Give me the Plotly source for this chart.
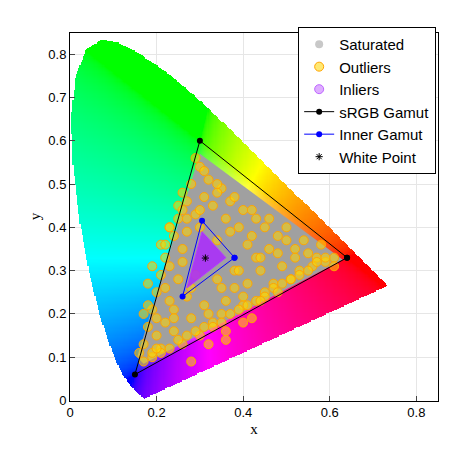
import numpy as np
import plotly.graph_objects as go

locus_x = [0.1741,0.1714,0.1644,0.1566,0.1440,0.1241,0.1096,0.0913,0.0687,0.0454,0.0235,0.0082,0.0039,0.0139,0.0389,0.0743,0.1142,0.1547,0.2296,0.3016,0.3731,0.4441,0.5125,0.5752,0.6270,0.6915,0.7190,0.7347]
locus_y = [0.0050,0.0051,0.0109,0.0177,0.0297,0.0578,0.0868,0.1327,0.2007,0.2950,0.4127,0.5384,0.6548,0.7502,0.8120,0.8338,0.8262,0.8059,0.7543,0.6923,0.6245,0.5547,0.4866,0.4242,0.3725,0.3083,0.2809,0.2653]

srgb_x = [0.64, 0.30, 0.15, 0.64]
srgb_y = [0.33, 0.60, 0.06, 0.33]
inner_x = [0.38, 0.305, 0.26, 0.38]
inner_y = [0.33, 0.415, 0.24, 0.33]
white_x = [0.3127]
white_y = [0.329]

sat_x = [0.30, 0.61, 0.63, 0.17, 0.155, 0.30]
sat_y = [0.57, 0.34, 0.325, 0.085, 0.10, 0.57]

out_x = [0.30,0.28,0.32,0.27,0.31,0.35,0.25,0.29,0.33,0.37,0.24,0.27,0.40,0.43,0.22,0.26,0.45,0.48,0.50,0.21,0.23,0.52,0.55,0.57,0.20,0.19,0.59,0.61,0.18,0.17,0.42,0.46,0.39,0.36,0.34,0.44,0.49,0.53,0.47,0.41,0.38,0.31,0.28,0.23,0.25,0.22,0.20,0.35,0.40,0.30,0.33,0.45,0.51,0.56,0.26,0.24,0.21,0.19,0.27,0.29,0.32,0.36,0.42,0.38,0.34,0.43,
         0.29,0.31,0.34,0.26,0.30,0.23,0.25,0.21,0.19,0.18,0.17,0.16,0.17,0.19,0.21,0.23,0.25,0.27,0.29,0.31,0.33,0.35,0.37,0.39,0.41,0.43,0.45,0.47,0.49,0.51,0.53,0.55,0.57,0.59,0.61,0.58,0.54,0.50,0.46,0.42,0.38,0.34,0.30,0.26,0.22,0.20,0.18,0.24,0.28,0.32,0.36,0.40,0.44,0.48,0.52,0.22,0.26,0.36,0.40,0.44,0.48,0.23,0.27,0.37,0.41,0.39,0.35,0.24,0.20,0.28]
out_y = [0.54,0.50,0.51,0.46,0.47,0.49,0.42,0.43,0.45,0.46,0.38,0.39,0.44,0.42,0.33,0.35,0.40,0.38,0.37,0.29,0.31,0.35,0.34,0.33,0.25,0.21,0.32,0.33,0.17,0.13,0.38,0.35,0.40,0.42,0.37,0.30,0.31,0.30,0.27,0.27,0.26,0.22,0.19,0.23,0.28,0.18,0.15,0.20,0.22,0.15,0.18,0.25,0.28,0.31,0.13,0.16,0.12,0.10,0.24,0.29,0.13,0.16,0.19,0.30,0.28,0.33,
         0.56,0.53,0.48,0.48,0.44,0.40,0.45,0.36,0.31,0.27,0.20,0.11,0.09,0.11,0.11,0.12,0.14,0.15,0.16,0.17,0.17,0.18,0.20,0.21,0.22,0.23,0.24,0.26,0.27,0.28,0.29,0.30,0.32,0.33,0.31,0.36,0.37,0.40,0.42,0.44,0.47,0.50,0.40,0.32,0.26,0.19,0.22,0.21,0.26,0.20,0.14,0.18,0.33,0.34,0.33,0.36,0.44,0.23,0.24,0.23,0.25,0.40,0.42,0.39,0.36,0.30,0.26,0.19,0.12,0.09]

in_x = [0.305, 0.36, 0.27, 0.305]
in_y = [0.39, 0.33, 0.26, 0.39]

# background chromaticity fill
n = 320
gx = np.linspace(0, 0.85, n)
gy = np.linspace(0, 0.85, n)
X, Y = np.meshgrid(gx, gy)
px, py = np.array(locus_x + [locus_x[0]]), np.array(locus_y + [locus_y[0]])
inside = np.zeros(X.shape, bool)
for i in range(len(px) - 1):
    x1, y1, x2, y2 = px[i], py[i], px[i+1], py[i+1]
    cond = ((y1 > Y) != (y2 > Y))
    xint = (x2 - x1) * (Y - y1) / (y2 - y1 + 1e-12) + x1
    inside ^= cond & (X < xint)
Yy = np.where(Y > 1e-4, Y, 1e-4)
XX = X / Yy
ZZ = (1 - X - Y) / Yy
YY = np.ones_like(X)
r = 3.2406*XX - 1.5372*YY - 0.4986*ZZ
g = -0.9689*XX + 1.8758*YY + 0.0415*ZZ
b = 0.0557*XX - 0.2040*YY + 1.0570*ZZ
rgb = np.clip(np.stack([r, g, b], -1), 0, None)
rgb = rgb / np.maximum(rgb.max(-1, keepdims=True), 1e-6)
rgb = np.where(rgb <= 0.0031308, 12.92*rgb, 1.055*rgb**(1/2.4) - 0.055)
img = np.zeros((n, n, 4))
img[..., :3] = rgb * 255
img[..., 3] = np.where(inside, 1, 0)
step = 0.85 / (n - 1)

fig = go.Figure()
fig.add_trace(go.Image(z=img, colormodel="rgba", x0=0, dx=step, y0=0, dy=step, hoverinfo="skip"))
fig.add_trace(go.Scatter(x=sat_x, y=sat_y, fill="toself", mode="none", fillcolor="rgb(160,160,160)", showlegend=False))
fig.add_trace(go.Scatter(x=[None], y=[None], mode="markers", name="Saturated",
                         marker=dict(color="rgb(200,200,200)", size=8)))
fig.add_trace(go.Scatter(x=out_x, y=out_y, mode="markers", name="Outliers",
                         marker=dict(color="rgba(255,215,0,0.55)", size=9, line=dict(color="orange", width=1))))
fig.add_trace(go.Scatter(x=in_x, y=in_y, fill="toself", mode="lines", line=dict(color="rgb(180,60,255)", width=1),
                         fillcolor="rgba(170,40,255,0.85)", showlegend=False))
fig.add_trace(go.Scatter(x=[None], y=[None], mode="markers", name="Inliers",
                         marker=dict(color="rgba(200,120,255,0.6)", size=9, line=dict(color="rgb(190,100,255)", width=1))))
fig.add_trace(go.Scatter(x=srgb_x, y=srgb_y, mode="lines+markers", name="sRGB Gamut",
                         line=dict(color="black", width=1), marker=dict(color="black", size=6)))
fig.add_trace(go.Scatter(x=inner_x, y=inner_y, mode="lines+markers", name="Inner Gamut",
                         line=dict(color="blue", width=1), marker=dict(color="blue", size=6)))
fig.add_trace(go.Scatter(x=white_x, y=white_y, mode="markers", name="White Point",
                         marker=dict(color="black", size=6, symbol="asterisk-open")))

ticks = [0, 0.2, 0.4, 0.6, 0.8]
yt = [0, 0.1, 0.2, 0.3, 0.4, 0.5, 0.6, 0.7, 0.8]
fig.update_layout(
    width=474, height=451, margin=dict(l=62, r=44, t=17, b=51),
    plot_bgcolor="white", paper_bgcolor="white",
    font=dict(family="Liberation Sans", size=13, color="black"),
    legend=dict(x=0.995, y=0.995, xanchor="right", yanchor="top", bordercolor="black", borderwidth=1,
                bgcolor="white", font=dict(size=15), tracegroupgap=0),
    xaxis=dict(range=[0, 0.85], tickvals=ticks, ticktext=["0", "0.2", "0.4", "0.6", "0.8"], showgrid=True,
               gridcolor="rgb(230,230,230)", zeroline=False, showline=True, linecolor="black", mirror=True,
               ticks="inside", automargin=False,
               title=dict(text="x", font=dict(family="Liberation Serif", size=15), standoff=4)),
    yaxis=dict(range=[0, 0.85], tickvals=yt, ticktext=["0", "0.1", "0.2", "0.3", "0.4", "0.5", "0.6", "0.7", "0.8"],
               showgrid=True, gridcolor="rgb(230,230,230)", zeroline=False, showline=True, linecolor="black",
               mirror=True, ticks="inside", autorange=False, automargin=False,
               title=dict(text="y", font=dict(family="Liberation Serif", size=15), standoff=4)),
)
fig.write_html("out.html")
